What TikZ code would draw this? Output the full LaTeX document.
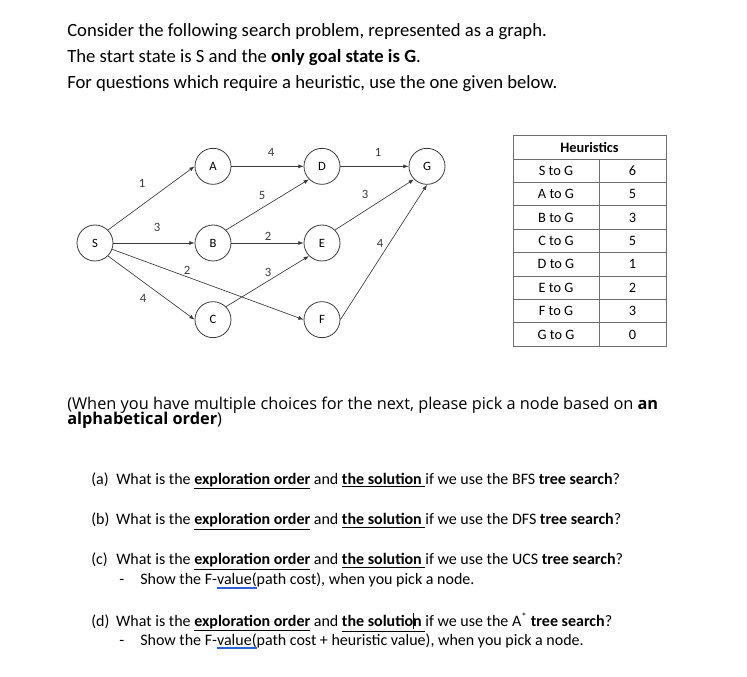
\documentclass[tikz,border=0pt]{standalone}
\usepackage{fontspec}
\setmainfont{Carlito}
\newfontfamily\fuenteNota{Open Sans}
\usetikzlibrary{arrows.meta, positioning}
\definecolor{grisLinea}{HTML}{3A3A3A}
\definecolor{grisTabla}{HTML}{6E6E6E}
\definecolor{azulOrto}{HTML}{2F62D6}
\newcommand\marcaOrto[1]{\setbox0\hbox{#1}%
  \rlap{\color{azulOrto}\rule[-2.0pt]{\wd0}{0.45pt}}%
  \rlap{\color{azulOrto}\rule[-3.0pt]{\wd0}{0.45pt}}\box0}
\newcommand\cursorTexto{\rlap{\kern-0.3pt\rule[-2.2pt]{0.5pt}{12pt}}}
\tikzset{
  nodoEstado/.style={
    circle, draw=grisLinea, line width=0.6pt,
    minimum size=27pt, inner sep=0pt,
    font=\fontsize{9.5}{11}\selectfont
  },
  flecha/.style={-{Latex[length=4pt, width=3pt]}, line width=0.5pt, grisLinea},
  etiquetaCosto/.style={font=\fontsize{9.5}{11}\selectfont, inner sep=0pt},
  celdaTabla/.style={
    draw=grisTabla, line width=0.6pt, inner sep=0pt,
    minimum height=17.55pt, font=\fontsize{10.75}{12}\selectfont
  },
  textoLinea/.style={anchor=base west, inner sep=0pt, font=\fontsize{14}{16}\selectfont},
  textoNota/.style={anchor=base west, inner sep=0pt, font=\fuenteNota\fontsize{12.25}{14}\selectfont},
  textoPregunta/.style={anchor=base west, inner sep=0pt, font=\fontsize{12}{14}\selectfont},
}
\begin{document}
\begin{tikzpicture}[x=0.75pt, y=-0.75pt, node distance=57.5pt and 81.75pt]
  \useasboundingbox (0,0) rectangle (747,677);
  % enunciado
  \node[textoLinea] (linea1) at (67,37) {Consider the following search problem, represented as a graph.};
  \node[textoLinea] (linea2) at (67,63) {The start state is S and the \textbf{only goal state is G}.};
  \node[textoLinea] (linea3) at (67,89) {For questions which require a heuristic, use the one given below.};

  % grafo
  \node[nodoEstado] (s) at (95,243) {S};
  \node[nodoEstado, on grid, right=88.5pt of s] (b) {B};
  \node[nodoEstado, on grid, above=of b] (a) {A};
  \node[nodoEstado, on grid, below=of b] (c) {C};
  \node[nodoEstado, on grid, right=of a] (d) {D};
  \node[nodoEstado, on grid, right=of b] (e) {E};
  \node[nodoEstado, on grid, right=of c] (f) {F};
  \node[nodoEstado, on grid, right=78.75pt of d] (g) {G};
  \draw[flecha] (s.north east) -- (a.west) node[etiquetaCosto] at (142,183) {1};
  \draw[flecha] (s) -- (b) node[etiquetaCosto] at (157,227) {3};
  \draw[flecha] (s.south east) -- (c.west) node[etiquetaCosto] at (143,298) {4};
  \draw[flecha] (s) -- (f.west) node[etiquetaCosto] at (187,270) {2};
  \draw[flecha] (a) -- (d) node[etiquetaCosto] at (271,152) {4};
  \draw[flecha] (b.north east) -- (d.south west) node[etiquetaCosto] at (262,195) {5};
  \draw[flecha] (b) -- (e) node[etiquetaCosto] at (268,236) {2};
  \draw[flecha] (c.north east) -- (e.south west) node[etiquetaCosto] at (268,272) {3};
  \draw[flecha] (d) -- (g) node[etiquetaCosto] at (378,152) {1};
  \draw[flecha] (e.north east) -- (g.south west) node[etiquetaCosto] at (365,194) {3};
  \draw[flecha] (f.east) -- (g.south) node[etiquetaCosto] at (380,243) {4};

  % tabla de heuristicas
  \node[celdaTabla, minimum width=114.75pt] (heur) at (589.5,147.5) {\textbf{Heuristics}};
  \foreach \estado/\valor [count=\i] in {S/6, A/5, B/3, C/5, D/1, E/2, F/3, G/0} {
    \node[celdaTabla, minimum width=64.5pt] (heurEst\i) at (556,{159+23.4*(\i-0.5)}) {\estado{} to G};
    \node[celdaTabla, minimum width=50.25pt] (heurVal\i) at (632.5,{159+23.4*(\i-0.5)}) {\valor};
  }

  % nota y preguntas
  \node[textoNota] (nota1) at (67,410) {(When you have multiple choices for the next, please pick a node based on \textbf{an}};
  \node[textoNota] (nota2) at (67,425) {\textbf{alphabetical order})};
  \node[textoPregunta] (pregA) at (91,484) {\makebox[18.75pt][l]{(a)}What is the \underline{\textbf{exploration order}} and \underline{\textbf{the solution }}if we use the BFS \textbf{tree search}?};
  \node[textoPregunta] (pregB) at (91,525) {\makebox[18.75pt][l]{(b)}What is the \underline{\textbf{exploration order}} and \underline{\textbf{the solution }}if we use the DFS \textbf{tree search}?};
  \node[textoPregunta] (pregC) at (91,565) {\makebox[18.75pt][l]{(c)}What is the \underline{\textbf{exploration order}} and \underline{\textbf{the solution }}if we use the UCS \textbf{tree search}?};
  \node[textoPregunta] (guionC) at (119,585) {-};
  \node[textoPregunta] (detalleC) at (140,585) {Show the F-\marcaOrto{value(}path cost), when you pick a node.};
  \node[textoPregunta] (pregD) at (91,626) {\makebox[18.75pt][l]{(d)}What is the \underline{\textbf{exploration order}} and \underline{\textbf{the solutio\cursorTexto n }}if we use the A\textsuperscript{*} \textbf{tree search}?};
  \node[textoPregunta] (guionD) at (119,645) {-};
  \node[textoPregunta] (detalleD) at (140,645) {Show the F-\marcaOrto{value(}path cost + heuristic value), when you pick a node.};
\end{tikzpicture}
\end{document}
